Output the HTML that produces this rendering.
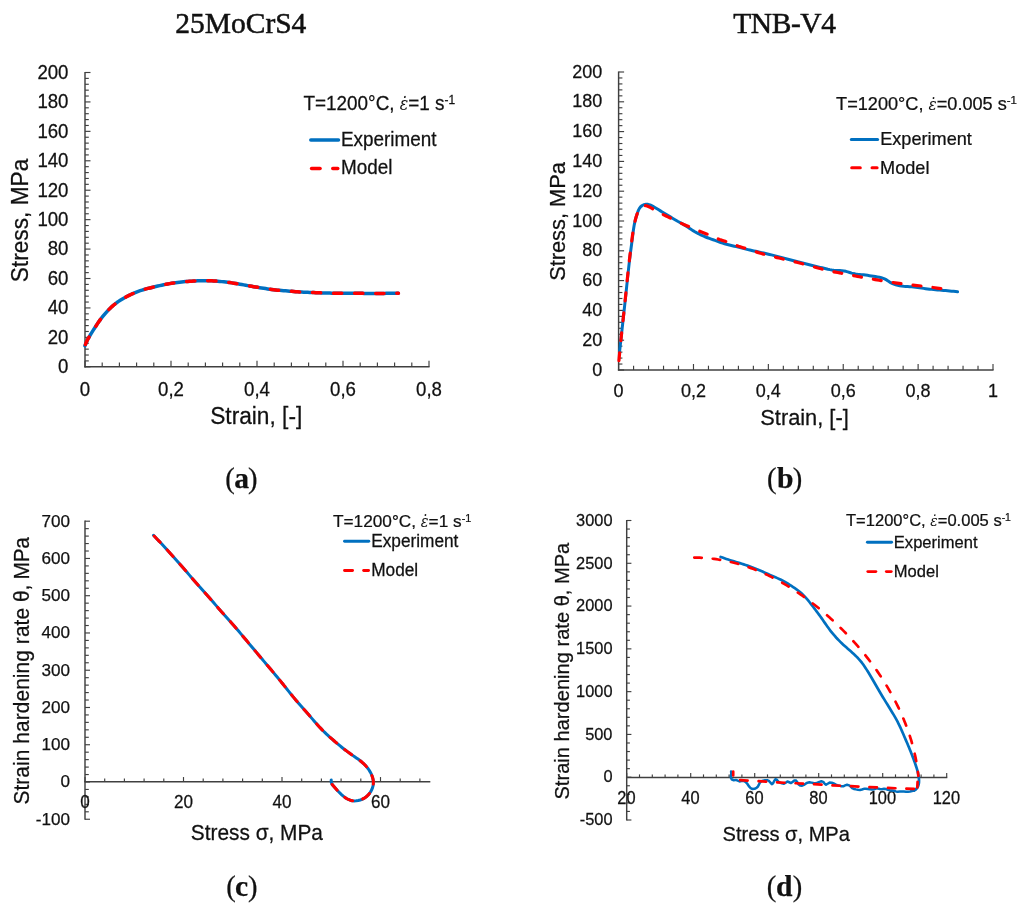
<!DOCTYPE html>
<html lang="en"><head><meta charset="utf-8"><title>Flow curves and strain hardening rate: 25MoCrS4 and TNB-V4</title>
<style>html,body{margin:0;padding:0;background:#fff}svg{display:block}text{fill:#111;stroke:#111;stroke-width:0.25px}</style></head><body>
<svg width="1024" height="911" viewBox="0 0 1024 911">
<rect width="1024" height="911" fill="#ffffff"/>
<g style="filter:blur(0.45px)">
<text x="240.8" y="33.2" font-size="29.5" text-anchor="middle" font-family="'Liberation Serif', 'DejaVu Serif', serif" style="stroke-width:0.5px">25MoCrS4</text>
<text x="784.4" y="33.2" font-size="29.5" text-anchor="middle" font-family="'Liberation Serif', 'DejaVu Serif', serif" letter-spacing="-0.45" style="stroke-width:0.5px">TNB-V4</text>
<text x="225.2" y="487.9" font-size="28.6" text-anchor="start" font-family="'Liberation Serif', 'DejaVu Serif', serif" ><tspan x="225.2">(</tspan><tspan x="234.3" font-weight="bold" font-size="29.6">a</tspan><tspan x="248">)</tspan></text>
<text x="766.9" y="487.9" font-size="28.6" text-anchor="start" font-family="'Liberation Serif', 'DejaVu Serif', serif" ><tspan x="766.9">(</tspan><tspan x="777.1" font-weight="bold" font-size="29.6">b</tspan><tspan x="792.75">)</tspan></text>
<text x="226.2" y="896.1" font-size="28.6" text-anchor="start" font-family="'Liberation Serif', 'DejaVu Serif', serif" ><tspan x="226.2">(</tspan><tspan x="235.1" font-weight="bold" font-size="29.6">c</tspan><tspan x="248">)</tspan></text>
<text x="766.7" y="896.1" font-size="28.6" text-anchor="start" font-family="'Liberation Serif', 'DejaVu Serif', serif" ><tspan x="766.7">(</tspan><tspan x="776.1" font-weight="bold" font-size="29.6">d</tspan><tspan x="792.75">)</tspan></text>
<g id="chart-a">
<line x1="85" y1="71.92" x2="85" y2="367.38" stroke="#404040" stroke-width="1.45"/>
<line x1="84.28" y1="366.8" x2="429.57" y2="366.8" stroke="#404040" stroke-width="1.45"/>
<line x1="85" y1="72.5" x2="90.5" y2="72.5" stroke="#404040" stroke-width="1.15"/>
<text x="68.5" y="78.84" font-size="18.65" text-anchor="end" font-family="'Liberation Sans', Arial, sans-serif" transform="translate(68.5 78.84) scale(1 1.04) translate(-68.5 -78.84)" >200</text>
<line x1="85" y1="78.39" x2="88.8" y2="78.39" stroke="#404040" stroke-width="1.15"/>
<line x1="85" y1="84.27" x2="88.8" y2="84.27" stroke="#404040" stroke-width="1.15"/>
<line x1="85" y1="90.16" x2="88.8" y2="90.16" stroke="#404040" stroke-width="1.15"/>
<line x1="85" y1="96.04" x2="88.8" y2="96.04" stroke="#404040" stroke-width="1.15"/>
<line x1="85" y1="101.93" x2="90.5" y2="101.93" stroke="#404040" stroke-width="1.15"/>
<text x="68.5" y="108.27" font-size="18.65" text-anchor="end" font-family="'Liberation Sans', Arial, sans-serif" transform="translate(68.5 108.27) scale(1 1.04) translate(-68.5 -108.27)" >180</text>
<line x1="85" y1="107.82" x2="88.8" y2="107.82" stroke="#404040" stroke-width="1.15"/>
<line x1="85" y1="113.7" x2="88.8" y2="113.7" stroke="#404040" stroke-width="1.15"/>
<line x1="85" y1="119.59" x2="88.8" y2="119.59" stroke="#404040" stroke-width="1.15"/>
<line x1="85" y1="125.47" x2="88.8" y2="125.47" stroke="#404040" stroke-width="1.15"/>
<line x1="85" y1="131.36" x2="90.5" y2="131.36" stroke="#404040" stroke-width="1.15"/>
<text x="68.5" y="137.7" font-size="18.65" text-anchor="end" font-family="'Liberation Sans', Arial, sans-serif" transform="translate(68.5 137.7) scale(1 1.04) translate(-68.5 -137.7)" >160</text>
<line x1="85" y1="137.25" x2="88.8" y2="137.25" stroke="#404040" stroke-width="1.15"/>
<line x1="85" y1="143.13" x2="88.8" y2="143.13" stroke="#404040" stroke-width="1.15"/>
<line x1="85" y1="149.02" x2="88.8" y2="149.02" stroke="#404040" stroke-width="1.15"/>
<line x1="85" y1="154.9" x2="88.8" y2="154.9" stroke="#404040" stroke-width="1.15"/>
<line x1="85" y1="160.79" x2="90.5" y2="160.79" stroke="#404040" stroke-width="1.15"/>
<text x="68.5" y="167.13" font-size="18.65" text-anchor="end" font-family="'Liberation Sans', Arial, sans-serif" transform="translate(68.5 167.13) scale(1 1.04) translate(-68.5 -167.13)" >140</text>
<line x1="85" y1="166.68" x2="88.8" y2="166.68" stroke="#404040" stroke-width="1.15"/>
<line x1="85" y1="172.56" x2="88.8" y2="172.56" stroke="#404040" stroke-width="1.15"/>
<line x1="85" y1="178.45" x2="88.8" y2="178.45" stroke="#404040" stroke-width="1.15"/>
<line x1="85" y1="184.33" x2="88.8" y2="184.33" stroke="#404040" stroke-width="1.15"/>
<line x1="85" y1="190.22" x2="90.5" y2="190.22" stroke="#404040" stroke-width="1.15"/>
<text x="68.5" y="196.56" font-size="18.65" text-anchor="end" font-family="'Liberation Sans', Arial, sans-serif" transform="translate(68.5 196.56) scale(1 1.04) translate(-68.5 -196.56)" >120</text>
<line x1="85" y1="196.11" x2="88.8" y2="196.11" stroke="#404040" stroke-width="1.15"/>
<line x1="85" y1="201.99" x2="88.8" y2="201.99" stroke="#404040" stroke-width="1.15"/>
<line x1="85" y1="207.88" x2="88.8" y2="207.88" stroke="#404040" stroke-width="1.15"/>
<line x1="85" y1="213.76" x2="88.8" y2="213.76" stroke="#404040" stroke-width="1.15"/>
<line x1="85" y1="219.65" x2="90.5" y2="219.65" stroke="#404040" stroke-width="1.15"/>
<text x="68.5" y="225.99" font-size="18.65" text-anchor="end" font-family="'Liberation Sans', Arial, sans-serif" transform="translate(68.5 225.99) scale(1 1.04) translate(-68.5 -225.99)" >100</text>
<line x1="85" y1="225.54" x2="88.8" y2="225.54" stroke="#404040" stroke-width="1.15"/>
<line x1="85" y1="231.42" x2="88.8" y2="231.42" stroke="#404040" stroke-width="1.15"/>
<line x1="85" y1="237.31" x2="88.8" y2="237.31" stroke="#404040" stroke-width="1.15"/>
<line x1="85" y1="243.19" x2="88.8" y2="243.19" stroke="#404040" stroke-width="1.15"/>
<line x1="85" y1="249.08" x2="90.5" y2="249.08" stroke="#404040" stroke-width="1.15"/>
<text x="68.5" y="255.42" font-size="18.65" text-anchor="end" font-family="'Liberation Sans', Arial, sans-serif" transform="translate(68.5 255.42) scale(1 1.04) translate(-68.5 -255.42)" >80</text>
<line x1="85" y1="254.97" x2="88.8" y2="254.97" stroke="#404040" stroke-width="1.15"/>
<line x1="85" y1="260.85" x2="88.8" y2="260.85" stroke="#404040" stroke-width="1.15"/>
<line x1="85" y1="266.74" x2="88.8" y2="266.74" stroke="#404040" stroke-width="1.15"/>
<line x1="85" y1="272.62" x2="88.8" y2="272.62" stroke="#404040" stroke-width="1.15"/>
<line x1="85" y1="278.51" x2="90.5" y2="278.51" stroke="#404040" stroke-width="1.15"/>
<text x="68.5" y="284.85" font-size="18.65" text-anchor="end" font-family="'Liberation Sans', Arial, sans-serif" transform="translate(68.5 284.85) scale(1 1.04) translate(-68.5 -284.85)" >60</text>
<line x1="85" y1="284.4" x2="88.8" y2="284.4" stroke="#404040" stroke-width="1.15"/>
<line x1="85" y1="290.28" x2="88.8" y2="290.28" stroke="#404040" stroke-width="1.15"/>
<line x1="85" y1="296.17" x2="88.8" y2="296.17" stroke="#404040" stroke-width="1.15"/>
<line x1="85" y1="302.05" x2="88.8" y2="302.05" stroke="#404040" stroke-width="1.15"/>
<line x1="85" y1="307.94" x2="90.5" y2="307.94" stroke="#404040" stroke-width="1.15"/>
<text x="68.5" y="314.28" font-size="18.65" text-anchor="end" font-family="'Liberation Sans', Arial, sans-serif" transform="translate(68.5 314.28) scale(1 1.04) translate(-68.5 -314.28)" >40</text>
<line x1="85" y1="313.83" x2="88.8" y2="313.83" stroke="#404040" stroke-width="1.15"/>
<line x1="85" y1="319.71" x2="88.8" y2="319.71" stroke="#404040" stroke-width="1.15"/>
<line x1="85" y1="325.6" x2="88.8" y2="325.6" stroke="#404040" stroke-width="1.15"/>
<line x1="85" y1="331.48" x2="88.8" y2="331.48" stroke="#404040" stroke-width="1.15"/>
<line x1="85" y1="337.37" x2="90.5" y2="337.37" stroke="#404040" stroke-width="1.15"/>
<text x="68.5" y="343.71" font-size="18.65" text-anchor="end" font-family="'Liberation Sans', Arial, sans-serif" transform="translate(68.5 343.71) scale(1 1.04) translate(-68.5 -343.71)" >20</text>
<line x1="85" y1="343.26" x2="88.8" y2="343.26" stroke="#404040" stroke-width="1.15"/>
<line x1="85" y1="349.14" x2="88.8" y2="349.14" stroke="#404040" stroke-width="1.15"/>
<line x1="85" y1="355.03" x2="88.8" y2="355.03" stroke="#404040" stroke-width="1.15"/>
<line x1="85" y1="360.91" x2="88.8" y2="360.91" stroke="#404040" stroke-width="1.15"/>
<line x1="85" y1="366.8" x2="90.5" y2="366.8" stroke="#404040" stroke-width="1.15"/>
<text x="68.5" y="373.14" font-size="18.65" text-anchor="end" font-family="'Liberation Sans', Arial, sans-serif" transform="translate(68.5 373.14) scale(1 1.04) translate(-68.5 -373.14)" >0</text>
<line x1="85" y1="366.8" x2="85" y2="360.8" stroke="#404040" stroke-width="1.15"/>
<text x="85" y="395.9" font-size="18.65" text-anchor="middle" font-family="'Liberation Sans', Arial, sans-serif" transform="translate(85 395.9) scale(1 1.04) translate(-85 -395.9)" >0</text>
<line x1="102.2" y1="366.8" x2="102.2" y2="362.5" stroke="#404040" stroke-width="1.15"/>
<line x1="119.4" y1="366.8" x2="119.4" y2="362.5" stroke="#404040" stroke-width="1.15"/>
<line x1="136.6" y1="366.8" x2="136.6" y2="362.5" stroke="#404040" stroke-width="1.15"/>
<line x1="153.8" y1="366.8" x2="153.8" y2="362.5" stroke="#404040" stroke-width="1.15"/>
<line x1="171" y1="366.8" x2="171" y2="360.8" stroke="#404040" stroke-width="1.15"/>
<text x="171" y="395.9" font-size="18.65" text-anchor="middle" font-family="'Liberation Sans', Arial, sans-serif" transform="translate(171 395.9) scale(1 1.04) translate(-171 -395.9)" >0,2</text>
<line x1="188.2" y1="366.8" x2="188.2" y2="362.5" stroke="#404040" stroke-width="1.15"/>
<line x1="205.4" y1="366.8" x2="205.4" y2="362.5" stroke="#404040" stroke-width="1.15"/>
<line x1="222.6" y1="366.8" x2="222.6" y2="362.5" stroke="#404040" stroke-width="1.15"/>
<line x1="239.8" y1="366.8" x2="239.8" y2="362.5" stroke="#404040" stroke-width="1.15"/>
<line x1="257" y1="366.8" x2="257" y2="360.8" stroke="#404040" stroke-width="1.15"/>
<text x="257" y="395.9" font-size="18.65" text-anchor="middle" font-family="'Liberation Sans', Arial, sans-serif" transform="translate(257 395.9) scale(1 1.04) translate(-257 -395.9)" >0,4</text>
<line x1="274.2" y1="366.8" x2="274.2" y2="362.5" stroke="#404040" stroke-width="1.15"/>
<line x1="291.4" y1="366.8" x2="291.4" y2="362.5" stroke="#404040" stroke-width="1.15"/>
<line x1="308.6" y1="366.8" x2="308.6" y2="362.5" stroke="#404040" stroke-width="1.15"/>
<line x1="325.8" y1="366.8" x2="325.8" y2="362.5" stroke="#404040" stroke-width="1.15"/>
<line x1="343" y1="366.8" x2="343" y2="360.8" stroke="#404040" stroke-width="1.15"/>
<text x="343" y="395.9" font-size="18.65" text-anchor="middle" font-family="'Liberation Sans', Arial, sans-serif" transform="translate(343 395.9) scale(1 1.04) translate(-343 -395.9)" >0,6</text>
<line x1="360.2" y1="366.8" x2="360.2" y2="362.5" stroke="#404040" stroke-width="1.15"/>
<line x1="377.4" y1="366.8" x2="377.4" y2="362.5" stroke="#404040" stroke-width="1.15"/>
<line x1="394.6" y1="366.8" x2="394.6" y2="362.5" stroke="#404040" stroke-width="1.15"/>
<line x1="411.8" y1="366.8" x2="411.8" y2="362.5" stroke="#404040" stroke-width="1.15"/>
<line x1="429" y1="366.8" x2="429" y2="360.8" stroke="#404040" stroke-width="1.15"/>
<text x="429" y="395.9" font-size="18.65" text-anchor="middle" font-family="'Liberation Sans', Arial, sans-serif" transform="translate(429 395.9) scale(1 1.04) translate(-429 -395.9)" >0,8</text>
<text x="256.25" y="424" font-size="22.7" text-anchor="middle" font-family="'Liberation Sans', Arial, sans-serif" transform="translate(256.25 424) scale(1 1.06) translate(-256.25 -424)" >Strain, [-]</text>
<text x="28.3" y="220.5" font-size="22.7" text-anchor="middle" font-family="'Liberation Sans', Arial, sans-serif" transform="translate(28.3 220.5) rotate(-90) scale(1 1.03) translate(-28.3 -220.5)" >Stress, MPa</text>
<polyline fill="none" stroke="#0070C0" stroke-width="3.5" stroke-linecap="round" stroke-linejoin="round" points="84.9,345.9 85.61,343.99 86.4,342.13 87.27,340.31 88.2,338.53 89.19,336.77 90.21,335.04 91.27,333.33 92.35,331.63 93.44,329.93 94.53,328.23 95.61,326.53 96.71,324.84 97.82,323.16 98.95,321.49 100.13,319.86 101.34,318.25 102.58,316.66 103.87,315.1 105.18,313.57 106.52,312.06 107.89,310.58 109.3,309.13 110.74,307.71 112.21,306.34 113.73,305.01 115.3,303.75 116.91,302.53 118.56,301.38 120.25,300.27 121.97,299.22 123.72,298.2 125.48,297.23 127.27,296.29 129.07,295.39 130.89,294.52 132.72,293.69 134.58,292.89 136.44,292.12 138.32,291.39 140.22,290.71 142.13,290.07 144.06,289.47 145.99,288.92 147.94,288.41 149.9,287.93 151.86,287.46 153.82,286.99 155.79,286.53 157.75,286.07 159.71,285.62 161.68,285.18 163.65,284.76 165.62,284.36 167.6,283.98 169.59,283.63 171.58,283.3 173.57,282.99 175.57,282.71 177.56,282.44 179.57,282.2 181.57,281.97 183.57,281.77 185.58,281.58 187.59,281.42 189.6,281.27 191.61,281.13 193.62,281.02 195.63,280.92 197.65,280.83 199.66,280.76 201.68,280.72 203.69,280.69 205.71,280.69 207.72,280.72 209.74,280.78 211.75,280.86 213.77,280.97 215.78,281.1 217.79,281.26 219.8,281.43 221.8,281.63 223.81,281.84 225.81,282.08 227.81,282.33 229.81,282.6 231.8,282.88 233.79,283.18 235.78,283.5 237.77,283.83 239.76,284.17 241.74,284.53 243.72,284.89 245.71,285.26 247.69,285.62 249.67,285.97 251.66,286.32 253.64,286.66 255.63,286.99 257.62,287.32 259.61,287.65 261.6,287.97 263.59,288.29 265.58,288.6 267.58,288.9 269.57,289.19 271.57,289.45 273.57,289.7 275.57,289.93 277.57,290.14 279.58,290.33 281.59,290.51 283.6,290.68 285.6,290.85 287.61,291.02 289.62,291.19 291.63,291.36 293.64,291.52 295.65,291.66 297.66,291.79 299.67,291.91 301.68,292.02 303.7,292.13 305.71,292.22 307.72,292.31 309.74,292.41 311.75,292.5 313.76,292.59 315.78,292.67 317.79,292.76 319.81,292.83 321.82,292.91 323.83,292.97 325.85,293.02 327.86,293.06 329.88,293.1 331.89,293.13 333.91,293.15 335.92,293.17 337.94,293.18 339.96,293.2 341.97,293.22 343.99,293.23 346,293.25 348.02,293.26 350.03,293.28 352.05,293.3 354.06,293.31 356.08,293.33 358.09,293.34 360.11,293.35 362.12,293.37 364.14,293.38 366.15,293.39 368.17,293.39 370.19,293.4 372.2,293.4 374.22,293.41 376.23,293.41 378.25,293.4 380.26,293.4 382.28,293.39 384.29,293.38 386.31,293.36 388.32,293.35 390.34,293.32 392.35,293.3 394.37,293.27 396.38,293.24 398.4,293.2"/>
<polyline fill="none" stroke="#FF0000" stroke-width="3.5" stroke-linecap="round" stroke-linejoin="round" stroke-dasharray="8.3 12.8" stroke-dashoffset="-1.5" points="84.9,345.9 85.61,343.99 86.4,342.13 87.27,340.31 88.2,338.53 89.19,336.77 90.21,335.04 91.27,333.33 92.35,331.63 93.44,329.93 94.53,328.23 95.61,326.53 96.71,324.84 97.82,323.16 98.95,321.49 100.13,319.86 101.34,318.25 102.58,316.66 103.87,315.1 105.18,313.57 106.52,312.06 107.89,310.58 109.3,309.13 110.74,307.71 112.21,306.34 113.73,305.01 115.3,303.75 116.91,302.53 118.56,301.38 120.25,300.27 121.97,299.22 123.72,298.2 125.48,297.23 127.27,296.29 129.07,295.39 130.89,294.52 132.72,293.69 134.58,292.89 136.44,292.12 138.32,291.39 140.22,290.71 142.13,290.07 144.06,289.47 145.99,288.92 147.94,288.41 149.9,287.93 151.86,287.46 153.82,286.99 155.79,286.53 157.75,286.07 159.71,285.62 161.68,285.18 163.65,284.76 165.62,284.36 167.6,283.98 169.59,283.63 171.58,283.3 173.57,282.99 175.57,282.71 177.56,282.44 179.57,282.2 181.57,281.97 183.57,281.77 185.58,281.58 187.59,281.42 189.6,281.27 191.61,281.13 193.62,281.02 195.63,280.92 197.65,280.83 199.66,280.76 201.68,280.72 203.69,280.69 205.71,280.69 207.72,280.72 209.74,280.78 211.75,280.86 213.77,280.97 215.78,281.1 217.79,281.26 219.8,281.43 221.8,281.63 223.81,281.84 225.81,282.08 227.81,282.33 229.81,282.6 231.8,282.88 233.79,283.18 235.78,283.5 237.77,283.83 239.76,284.17 241.74,284.53 243.72,284.89 245.71,285.26 247.69,285.62 249.67,285.97 251.66,286.32 253.64,286.66 255.63,286.99 257.62,287.32 259.61,287.65 261.6,287.97 263.59,288.29 265.58,288.6 267.58,288.9 269.57,289.19 271.57,289.45 273.57,289.7 275.57,289.93 277.57,290.14 279.58,290.33 281.59,290.51 283.6,290.68 285.6,290.85 287.61,291.02 289.62,291.19 291.63,291.36 293.64,291.52 295.65,291.66 297.66,291.79 299.67,291.91 301.68,292.02 303.7,292.13 305.71,292.22 307.72,292.31 309.74,292.41 311.75,292.5 313.76,292.59 315.78,292.67 317.79,292.76 319.81,292.83 321.82,292.91 323.83,292.97 325.85,293.02 327.86,293.06 329.88,293.1 331.89,293.13 333.91,293.15 335.92,293.17 337.94,293.18 339.96,293.2 341.97,293.22 343.99,293.23 346,293.25 348.02,293.26 350.03,293.28 352.05,293.3 354.06,293.31 356.08,293.33 358.09,293.34 360.11,293.35 362.12,293.37 364.14,293.38 366.15,293.39 368.17,293.39 370.19,293.4 372.2,293.4 374.22,293.41 376.23,293.41 378.25,293.4 380.26,293.4 382.28,293.39 384.29,293.38 386.31,293.36 388.32,293.35 390.34,293.32 392.35,293.3 394.37,293.27 396.38,293.24 398.4,293.2"/>
<text x="303.5" y="110" font-size="18.9" text-anchor="start" font-family="'Liberation Sans', Arial, sans-serif" transform="translate(303.5 110) scale(1 1.06) translate(-303.5 -110)" >T=1200°C, <tspan font-family="'DejaVu Serif Condensed', 'DejaVu Serif', serif" font-style="italic" font-size="17.58" stroke-width="0">ε̇</tspan>=1 s<tspan font-size="11.91" dy="-5.86">-1</tspan></text>
<line x1="310.8" y1="139.9" x2="338.5" y2="139.9" stroke="#0070C0" stroke-width="3.5" stroke-linecap="round"/>
<text x="341" y="145.75" font-size="18.9" text-anchor="start" font-family="'Liberation Sans', Arial, sans-serif" transform="translate(341 145.75) scale(1 1.06) translate(-341 -145.75)" >Experiment</text>
<line x1="311.55" y1="168.6" x2="320.05" y2="168.6" stroke="#FF0000" stroke-width="3.5" stroke-linecap="round"/>
<line x1="332.75" y1="168.6" x2="337.75" y2="168.6" stroke="#FF0000" stroke-width="3.5" stroke-linecap="round"/>
<text x="341" y="174.25" font-size="18.9" text-anchor="start" font-family="'Liberation Sans', Arial, sans-serif" transform="translate(341 174.25) scale(1 1.06) translate(-341 -174.25)" >Model</text>
</g>
<g id="chart-b">
<line x1="618.6" y1="71.42" x2="618.6" y2="370.57" stroke="#404040" stroke-width="1.45"/>
<line x1="617.88" y1="370" x2="993.58" y2="370" stroke="#404040" stroke-width="1.45"/>
<line x1="618.6" y1="72" x2="624.1" y2="72" stroke="#404040" stroke-width="1.15"/>
<text x="602.3" y="77.53" font-size="18" text-anchor="end" font-family="'Liberation Sans', Arial, sans-serif" transform="translate(602.3 77.53) scale(1 1.06) translate(-602.3 -77.53)" >200</text>
<line x1="618.6" y1="77.96" x2="622.4" y2="77.96" stroke="#404040" stroke-width="1.15"/>
<line x1="618.6" y1="83.92" x2="622.4" y2="83.92" stroke="#404040" stroke-width="1.15"/>
<line x1="618.6" y1="89.88" x2="622.4" y2="89.88" stroke="#404040" stroke-width="1.15"/>
<line x1="618.6" y1="95.84" x2="622.4" y2="95.84" stroke="#404040" stroke-width="1.15"/>
<line x1="618.6" y1="101.8" x2="624.1" y2="101.8" stroke="#404040" stroke-width="1.15"/>
<text x="602.3" y="107.33" font-size="18" text-anchor="end" font-family="'Liberation Sans', Arial, sans-serif" transform="translate(602.3 107.33) scale(1 1.06) translate(-602.3 -107.33)" >180</text>
<line x1="618.6" y1="107.76" x2="622.4" y2="107.76" stroke="#404040" stroke-width="1.15"/>
<line x1="618.6" y1="113.72" x2="622.4" y2="113.72" stroke="#404040" stroke-width="1.15"/>
<line x1="618.6" y1="119.68" x2="622.4" y2="119.68" stroke="#404040" stroke-width="1.15"/>
<line x1="618.6" y1="125.64" x2="622.4" y2="125.64" stroke="#404040" stroke-width="1.15"/>
<line x1="618.6" y1="131.6" x2="624.1" y2="131.6" stroke="#404040" stroke-width="1.15"/>
<text x="602.3" y="137.13" font-size="18" text-anchor="end" font-family="'Liberation Sans', Arial, sans-serif" transform="translate(602.3 137.13) scale(1 1.06) translate(-602.3 -137.13)" >160</text>
<line x1="618.6" y1="137.56" x2="622.4" y2="137.56" stroke="#404040" stroke-width="1.15"/>
<line x1="618.6" y1="143.52" x2="622.4" y2="143.52" stroke="#404040" stroke-width="1.15"/>
<line x1="618.6" y1="149.48" x2="622.4" y2="149.48" stroke="#404040" stroke-width="1.15"/>
<line x1="618.6" y1="155.44" x2="622.4" y2="155.44" stroke="#404040" stroke-width="1.15"/>
<line x1="618.6" y1="161.4" x2="624.1" y2="161.4" stroke="#404040" stroke-width="1.15"/>
<text x="602.3" y="166.93" font-size="18" text-anchor="end" font-family="'Liberation Sans', Arial, sans-serif" transform="translate(602.3 166.93) scale(1 1.06) translate(-602.3 -166.93)" >140</text>
<line x1="618.6" y1="167.36" x2="622.4" y2="167.36" stroke="#404040" stroke-width="1.15"/>
<line x1="618.6" y1="173.32" x2="622.4" y2="173.32" stroke="#404040" stroke-width="1.15"/>
<line x1="618.6" y1="179.28" x2="622.4" y2="179.28" stroke="#404040" stroke-width="1.15"/>
<line x1="618.6" y1="185.24" x2="622.4" y2="185.24" stroke="#404040" stroke-width="1.15"/>
<line x1="618.6" y1="191.2" x2="624.1" y2="191.2" stroke="#404040" stroke-width="1.15"/>
<text x="602.3" y="196.73" font-size="18" text-anchor="end" font-family="'Liberation Sans', Arial, sans-serif" transform="translate(602.3 196.73) scale(1 1.06) translate(-602.3 -196.73)" >120</text>
<line x1="618.6" y1="197.16" x2="622.4" y2="197.16" stroke="#404040" stroke-width="1.15"/>
<line x1="618.6" y1="203.12" x2="622.4" y2="203.12" stroke="#404040" stroke-width="1.15"/>
<line x1="618.6" y1="209.08" x2="622.4" y2="209.08" stroke="#404040" stroke-width="1.15"/>
<line x1="618.6" y1="215.04" x2="622.4" y2="215.04" stroke="#404040" stroke-width="1.15"/>
<line x1="618.6" y1="221" x2="624.1" y2="221" stroke="#404040" stroke-width="1.15"/>
<text x="602.3" y="226.53" font-size="18" text-anchor="end" font-family="'Liberation Sans', Arial, sans-serif" transform="translate(602.3 226.53) scale(1 1.06) translate(-602.3 -226.53)" >100</text>
<line x1="618.6" y1="226.96" x2="622.4" y2="226.96" stroke="#404040" stroke-width="1.15"/>
<line x1="618.6" y1="232.92" x2="622.4" y2="232.92" stroke="#404040" stroke-width="1.15"/>
<line x1="618.6" y1="238.88" x2="622.4" y2="238.88" stroke="#404040" stroke-width="1.15"/>
<line x1="618.6" y1="244.84" x2="622.4" y2="244.84" stroke="#404040" stroke-width="1.15"/>
<line x1="618.6" y1="250.8" x2="624.1" y2="250.8" stroke="#404040" stroke-width="1.15"/>
<text x="602.3" y="256.33" font-size="18" text-anchor="end" font-family="'Liberation Sans', Arial, sans-serif" transform="translate(602.3 256.33) scale(1 1.06) translate(-602.3 -256.33)" >80</text>
<line x1="618.6" y1="256.76" x2="622.4" y2="256.76" stroke="#404040" stroke-width="1.15"/>
<line x1="618.6" y1="262.72" x2="622.4" y2="262.72" stroke="#404040" stroke-width="1.15"/>
<line x1="618.6" y1="268.68" x2="622.4" y2="268.68" stroke="#404040" stroke-width="1.15"/>
<line x1="618.6" y1="274.64" x2="622.4" y2="274.64" stroke="#404040" stroke-width="1.15"/>
<line x1="618.6" y1="280.6" x2="624.1" y2="280.6" stroke="#404040" stroke-width="1.15"/>
<text x="602.3" y="286.13" font-size="18" text-anchor="end" font-family="'Liberation Sans', Arial, sans-serif" transform="translate(602.3 286.13) scale(1 1.06) translate(-602.3 -286.13)" >60</text>
<line x1="618.6" y1="286.56" x2="622.4" y2="286.56" stroke="#404040" stroke-width="1.15"/>
<line x1="618.6" y1="292.52" x2="622.4" y2="292.52" stroke="#404040" stroke-width="1.15"/>
<line x1="618.6" y1="298.48" x2="622.4" y2="298.48" stroke="#404040" stroke-width="1.15"/>
<line x1="618.6" y1="304.44" x2="622.4" y2="304.44" stroke="#404040" stroke-width="1.15"/>
<line x1="618.6" y1="310.4" x2="624.1" y2="310.4" stroke="#404040" stroke-width="1.15"/>
<text x="602.3" y="315.93" font-size="18" text-anchor="end" font-family="'Liberation Sans', Arial, sans-serif" transform="translate(602.3 315.93) scale(1 1.06) translate(-602.3 -315.93)" >40</text>
<line x1="618.6" y1="316.36" x2="622.4" y2="316.36" stroke="#404040" stroke-width="1.15"/>
<line x1="618.6" y1="322.32" x2="622.4" y2="322.32" stroke="#404040" stroke-width="1.15"/>
<line x1="618.6" y1="328.28" x2="622.4" y2="328.28" stroke="#404040" stroke-width="1.15"/>
<line x1="618.6" y1="334.24" x2="622.4" y2="334.24" stroke="#404040" stroke-width="1.15"/>
<line x1="618.6" y1="340.2" x2="624.1" y2="340.2" stroke="#404040" stroke-width="1.15"/>
<text x="602.3" y="345.73" font-size="18" text-anchor="end" font-family="'Liberation Sans', Arial, sans-serif" transform="translate(602.3 345.73) scale(1 1.06) translate(-602.3 -345.73)" >20</text>
<line x1="618.6" y1="346.16" x2="622.4" y2="346.16" stroke="#404040" stroke-width="1.15"/>
<line x1="618.6" y1="352.12" x2="622.4" y2="352.12" stroke="#404040" stroke-width="1.15"/>
<line x1="618.6" y1="358.08" x2="622.4" y2="358.08" stroke="#404040" stroke-width="1.15"/>
<line x1="618.6" y1="364.04" x2="622.4" y2="364.04" stroke="#404040" stroke-width="1.15"/>
<line x1="618.6" y1="370" x2="624.1" y2="370" stroke="#404040" stroke-width="1.15"/>
<text x="602.3" y="375.53" font-size="18" text-anchor="end" font-family="'Liberation Sans', Arial, sans-serif" transform="translate(602.3 375.53) scale(1 1.06) translate(-602.3 -375.53)" >0</text>
<line x1="618.6" y1="370" x2="618.6" y2="364" stroke="#404040" stroke-width="1.15"/>
<text x="618.6" y="397.1" font-size="18" text-anchor="middle" font-family="'Liberation Sans', Arial, sans-serif" transform="translate(618.6 397.1) scale(1 1.06) translate(-618.6 -397.1)" >0</text>
<line x1="633.58" y1="370" x2="633.58" y2="365.7" stroke="#404040" stroke-width="1.15"/>
<line x1="648.55" y1="370" x2="648.55" y2="365.7" stroke="#404040" stroke-width="1.15"/>
<line x1="663.53" y1="370" x2="663.53" y2="365.7" stroke="#404040" stroke-width="1.15"/>
<line x1="678.5" y1="370" x2="678.5" y2="365.7" stroke="#404040" stroke-width="1.15"/>
<line x1="693.48" y1="370" x2="693.48" y2="364" stroke="#404040" stroke-width="1.15"/>
<text x="693.48" y="397.1" font-size="18" text-anchor="middle" font-family="'Liberation Sans', Arial, sans-serif" transform="translate(693.48 397.1) scale(1 1.06) translate(-693.48 -397.1)" >0,2</text>
<line x1="708.46" y1="370" x2="708.46" y2="365.7" stroke="#404040" stroke-width="1.15"/>
<line x1="723.43" y1="370" x2="723.43" y2="365.7" stroke="#404040" stroke-width="1.15"/>
<line x1="738.41" y1="370" x2="738.41" y2="365.7" stroke="#404040" stroke-width="1.15"/>
<line x1="753.38" y1="370" x2="753.38" y2="365.7" stroke="#404040" stroke-width="1.15"/>
<line x1="768.36" y1="370" x2="768.36" y2="364" stroke="#404040" stroke-width="1.15"/>
<text x="768.36" y="397.1" font-size="18" text-anchor="middle" font-family="'Liberation Sans', Arial, sans-serif" transform="translate(768.36 397.1) scale(1 1.06) translate(-768.36 -397.1)" >0,4</text>
<line x1="783.34" y1="370" x2="783.34" y2="365.7" stroke="#404040" stroke-width="1.15"/>
<line x1="798.31" y1="370" x2="798.31" y2="365.7" stroke="#404040" stroke-width="1.15"/>
<line x1="813.29" y1="370" x2="813.29" y2="365.7" stroke="#404040" stroke-width="1.15"/>
<line x1="828.26" y1="370" x2="828.26" y2="365.7" stroke="#404040" stroke-width="1.15"/>
<line x1="843.24" y1="370" x2="843.24" y2="364" stroke="#404040" stroke-width="1.15"/>
<text x="843.24" y="397.1" font-size="18" text-anchor="middle" font-family="'Liberation Sans', Arial, sans-serif" transform="translate(843.24 397.1) scale(1 1.06) translate(-843.24 -397.1)" >0,6</text>
<line x1="858.22" y1="370" x2="858.22" y2="365.7" stroke="#404040" stroke-width="1.15"/>
<line x1="873.19" y1="370" x2="873.19" y2="365.7" stroke="#404040" stroke-width="1.15"/>
<line x1="888.17" y1="370" x2="888.17" y2="365.7" stroke="#404040" stroke-width="1.15"/>
<line x1="903.14" y1="370" x2="903.14" y2="365.7" stroke="#404040" stroke-width="1.15"/>
<line x1="918.12" y1="370" x2="918.12" y2="364" stroke="#404040" stroke-width="1.15"/>
<text x="918.12" y="397.1" font-size="18" text-anchor="middle" font-family="'Liberation Sans', Arial, sans-serif" transform="translate(918.12 397.1) scale(1 1.06) translate(-918.12 -397.1)" >0,8</text>
<line x1="933.1" y1="370" x2="933.1" y2="365.7" stroke="#404040" stroke-width="1.15"/>
<line x1="948.07" y1="370" x2="948.07" y2="365.7" stroke="#404040" stroke-width="1.15"/>
<line x1="963.05" y1="370" x2="963.05" y2="365.7" stroke="#404040" stroke-width="1.15"/>
<line x1="978.02" y1="370" x2="978.02" y2="365.7" stroke="#404040" stroke-width="1.15"/>
<line x1="993" y1="370" x2="993" y2="364" stroke="#404040" stroke-width="1.15"/>
<text x="993" y="397.1" font-size="18" text-anchor="middle" font-family="'Liberation Sans', Arial, sans-serif" transform="translate(993 397.1) scale(1 1.06) translate(-993 -397.1)" >1</text>
<text x="804.5" y="425.5" font-size="21.8" text-anchor="middle" font-family="'Liberation Sans', Arial, sans-serif" transform="translate(804.5 425.5) scale(1 1.04) translate(-804.5 -425.5)" >Strain, [-]</text>
<text x="564.6" y="221.5" font-size="21.8" text-anchor="middle" font-family="'Liberation Sans', Arial, sans-serif" transform="translate(564.6 221.5) rotate(-90) scale(1 1.04) translate(-564.6 -221.5)" >Stress, MPa</text>
<polyline fill="none" stroke="#0070C0" stroke-width="3" stroke-linecap="round" stroke-linejoin="round" points="619.6,351.3 619.82,349.3 620.05,347.31 620.27,345.31 620.49,343.31 620.72,341.32 620.94,339.32 621.16,337.33 621.39,335.33 621.61,333.33 621.83,331.34 622.05,329.34 622.27,327.34 622.49,325.35 622.71,323.35 622.93,321.35 623.15,319.36 623.37,317.36 623.59,315.36 623.81,313.37 624.03,311.37 624.25,309.37 624.46,307.37 624.68,305.38 624.9,303.38 625.11,301.38 625.32,299.39 625.54,297.39 625.75,295.39 625.96,293.39 626.17,291.4 626.38,289.4 626.59,287.4 626.8,285.4 627.01,283.4 627.22,281.41 627.43,279.41 627.64,277.41 627.85,275.41 628.07,273.42 628.28,271.42 628.5,269.42 628.72,267.42 628.94,265.43 629.17,263.43 629.4,261.44 629.63,259.44 629.87,257.45 630.11,255.45 630.37,253.46 630.62,251.47 630.89,249.48 631.16,247.49 631.43,245.49 631.69,243.5 631.95,241.51 632.2,239.52 632.45,237.53 632.69,235.53 632.95,233.54 633.21,231.55 633.49,229.56 633.8,227.57 634.13,225.58 634.5,223.61 634.91,221.64 635.38,219.69 635.9,217.76 636.48,215.84 637.1,213.93 637.77,212.02 638.5,210.12 639.42,208.34 640.65,206.76 642.23,205.49 644.06,204.61 646.03,204.21 648.03,204.35 649.98,204.92 651.83,205.72 653.6,206.68 655.31,207.72 657.02,208.78 658.73,209.85 660.43,210.9 662.15,211.95 663.87,212.99 665.59,214.02 667.31,215.05 669.03,216.09 670.74,217.14 672.45,218.2 674.16,219.25 675.89,220.28 677.64,221.28 679.41,222.23 681.19,223.17 682.95,224.12 684.69,225.12 686.38,226.2 688.04,227.34 689.69,228.49 691.36,229.6 693.07,230.66 694.8,231.68 696.55,232.67 698.33,233.62 700.12,234.53 701.93,235.4 703.76,236.22 705.61,237 707.48,237.73 709.36,238.43 711.25,239.11 713.15,239.78 715.04,240.46 716.94,241.14 718.83,241.82 720.73,242.48 722.63,243.12 724.54,243.72 726.47,244.27 728.41,244.78 730.37,245.26 732.32,245.72 734.28,246.17 736.24,246.64 738.19,247.12 740.13,247.63 742.07,248.14 744.02,248.65 745.96,249.15 747.91,249.62 749.87,250.07 751.83,250.51 753.8,250.92 755.76,251.34 757.73,251.76 759.69,252.18 761.65,252.62 763.61,253.06 765.57,253.52 767.52,253.98 769.48,254.44 771.43,254.91 773.38,255.38 775.34,255.86 777.28,256.35 779.23,256.85 781.17,257.36 783.11,257.88 785.05,258.41 786.99,258.95 788.92,259.48 790.86,260.01 792.8,260.53 794.74,261.04 796.69,261.54 798.64,262.03 800.58,262.52 802.53,263.01 804.48,263.49 806.43,263.98 808.38,264.46 810.33,264.94 812.28,265.42 814.23,265.9 816.18,266.39 818.13,266.87 820.08,267.35 822.03,267.82 823.99,268.3 825.95,268.76 827.91,269.21 829.88,269.61 831.86,269.96 833.85,270.22 835.85,270.4 837.87,270.5 839.89,270.59 841.9,270.72 843.89,270.95 845.85,271.33 847.77,271.88 849.69,272.5 851.61,273.11 853.55,273.6 855.52,273.96 857.51,274.23 859.52,274.44 861.53,274.62 863.53,274.83 865.53,275.07 867.52,275.34 869.5,275.65 871.48,275.96 873.47,276.28 875.45,276.6 877.44,276.93 879.41,277.31 881.36,277.79 883.28,278.4 885.14,279.18 886.9,280.14 888.57,281.26 890.24,282.38 891.99,283.35 893.84,284.15 895.75,284.8 897.7,285.31 899.67,285.71 901.66,286.01 903.66,286.24 905.66,286.41 907.67,286.55 909.68,286.67 911.68,286.8 913.68,286.95 915.68,287.15 917.67,287.41 919.65,287.72 921.64,288.04 923.62,288.36 925.61,288.67 927.6,288.94 929.59,289.17 931.59,289.37 933.59,289.55 935.6,289.73 937.6,289.89 939.6,290.06 941.6,290.23 943.6,290.4 945.6,290.58 947.6,290.76 949.6,290.95 951.6,291.14 953.6,291.34 955.6,291.54 957.6,291.75"/>
<polyline fill="none" stroke="#FF0000" stroke-width="3.2" stroke-linecap="round" stroke-linejoin="round" stroke-dasharray="8.0 12.06" stroke-dashoffset="-1.5" points="618.8,362.2 618.98,360.19 619.16,358.19 619.34,356.19 619.53,354.18 619.72,352.18 619.91,350.17 620.11,348.17 620.3,346.17 620.51,344.17 620.71,342.16 620.91,340.16 621.12,338.16 621.33,336.16 621.54,334.16 621.75,332.15 621.96,330.15 622.18,328.15 622.39,326.15 622.61,324.15 622.82,322.15 623.04,320.15 623.25,318.15 623.47,316.15 623.69,314.14 623.9,312.14 624.12,310.14 624.33,308.14 624.54,306.14 624.75,304.14 624.97,302.14 625.18,300.14 625.38,298.13 625.59,296.13 625.79,294.13 626,292.13 626.2,290.12 626.4,288.12 626.6,286.12 626.8,284.12 627.01,282.11 627.21,280.11 627.42,278.11 627.62,276.11 627.83,274.11 628.04,272.1 628.26,270.1 628.48,268.1 628.7,266.1 628.93,264.1 629.16,262.1 629.39,260.1 629.63,258.11 629.86,256.11 630.1,254.11 630.34,252.11 630.59,250.11 630.83,248.12 631.07,246.12 631.32,244.12 631.58,242.12 631.84,240.13 632.11,238.13 632.38,236.14 632.67,234.15 632.98,232.16 633.29,230.17 633.63,228.18 633.99,226.2 634.37,224.22 634.79,222.26 635.25,220.3 635.75,218.35 636.31,216.42 636.94,214.51 637.66,212.61 638.5,210.76 639.56,209.05 640.91,207.57 642.58,206.41 644.49,205.69 646.46,205.73 648.36,206.48 650.19,207.41 651.97,208.35 653.73,209.3 655.47,210.27 657.22,211.26 658.96,212.27 660.72,213.26 662.49,214.22 664.28,215.15 666.09,216.04 667.91,216.89 669.74,217.74 671.56,218.6 673.37,219.47 675.17,220.37 676.97,221.27 678.78,222.16 680.59,223.04 682.42,223.88 684.26,224.68 686.12,225.46 687.98,226.22 689.84,227 691.69,227.78 693.54,228.59 695.38,229.4 697.22,230.21 699.08,231 700.94,231.75 702.82,232.48 704.7,233.19 706.58,233.91 708.45,234.64 710.31,235.42 712.15,236.24 713.98,237.08 715.82,237.91 717.66,238.71 719.53,239.45 721.43,240.11 723.35,240.71 725.28,241.3 727.2,241.9 729.11,242.54 730.99,243.24 732.86,243.99 734.73,244.75 736.6,245.5 738.48,246.19 740.39,246.83 742.32,247.41 744.25,247.97 746.19,248.52 748.12,249.11 750.03,249.73 751.93,250.39 753.83,251.06 755.73,251.73 757.63,252.38 759.55,252.99 761.48,253.56 763.42,254.11 765.36,254.64 767.31,255.15 769.26,255.65 771.21,256.14 773.16,256.63 775.12,257.11 777.07,257.59 779.03,258.07 780.98,258.54 782.94,259 784.9,259.47 786.86,259.93 788.82,260.4 790.77,260.87 792.73,261.34 794.68,261.82 796.64,262.31 798.59,262.8 800.54,263.29 802.49,263.8 804.43,264.31 806.38,264.82 808.32,265.35 810.27,265.87 812.21,266.4 814.15,266.94 816.09,267.47 818.03,268 819.98,268.53 821.92,269.04 823.87,269.54 825.83,270.03 827.78,270.5 829.74,270.94 831.71,271.37 833.68,271.77 835.66,272.16 837.63,272.54 839.61,272.91 841.59,273.28 843.57,273.65 845.55,274.03 847.52,274.41 849.5,274.8 851.47,275.18 853.45,275.56 855.43,275.95 857.4,276.33 859.38,276.7 861.36,277.07 863.34,277.44 865.32,277.8 867.3,278.16 869.28,278.51 871.26,278.86 873.24,279.21 875.23,279.55 877.21,279.89 879.19,280.23 881.18,280.56 883.16,280.9 885.15,281.23 887.13,281.56 889.12,281.88 891.11,282.2 893.1,282.52 895.09,282.82 897.08,283.12 899.07,283.4 901.06,283.68 903.06,283.94 905.06,284.18 907.05,284.42 909.05,284.65 911.05,284.88 913.05,285.1 915.05,285.32 917.06,285.54 919.06,285.76 921.06,285.99 923.05,286.23 925.05,286.47 927.05,286.72 929.05,286.98 931.04,287.24 933.04,287.5 935.03,287.77 937.03,288.04 939.02,288.3 941.02,288.57 943.01,288.83 945.01,289.09 947,289.35 949,289.6"/>
<text x="836.1" y="110" font-size="18.15" text-anchor="start" font-family="'Liberation Sans', Arial, sans-serif" transform="translate(836.1 110) scale(1 0.99) translate(-836.1 -110)" >T=1200°C, <tspan font-family="'DejaVu Serif Condensed', 'DejaVu Serif', serif" font-style="italic" font-size="16.88" stroke-width="0">ε̇</tspan>=0.005 s<tspan font-size="11.43" dy="-5.63">-1</tspan></text>
<line x1="851.3" y1="139.55" x2="877.6" y2="139.55" stroke="#0070C0" stroke-width="3" stroke-linecap="round"/>
<text x="880.15" y="145.25" font-size="18.15" text-anchor="start" font-family="'Liberation Sans', Arial, sans-serif" transform="translate(880.15 145.25) scale(1 0.98) translate(-880.15 -145.25)" >Experiment</text>
<line x1="851.7" y1="167.65" x2="860.3" y2="167.65" stroke="#FF0000" stroke-width="3" stroke-linecap="round"/>
<line x1="872" y1="167.65" x2="877.1" y2="167.65" stroke="#FF0000" stroke-width="3" stroke-linecap="round"/>
<text x="880.1" y="173.75" font-size="18.15" text-anchor="start" font-family="'Liberation Sans', Arial, sans-serif" transform="translate(880.1 173.75) scale(1 0.98) translate(-880.1 -173.75)" >Model</text>
</g>
<g id="chart-c">
<line x1="85" y1="520.62" x2="85" y2="819.83" stroke="#404040" stroke-width="1.45"/>
<line x1="84.28" y1="781.75" x2="430.32" y2="781.75" stroke="#404040" stroke-width="1.45"/>
<line x1="85" y1="521.2" x2="90" y2="521.2" stroke="#404040" stroke-width="1.15"/>
<text x="70" y="526.67" font-size="17.1" text-anchor="end" font-family="'Liberation Sans', Arial, sans-serif" >700</text>
<line x1="85" y1="528.65" x2="88.8" y2="528.65" stroke="#404040" stroke-width="1.15"/>
<line x1="85" y1="536.1" x2="88.8" y2="536.1" stroke="#404040" stroke-width="1.15"/>
<line x1="85" y1="543.55" x2="88.8" y2="543.55" stroke="#404040" stroke-width="1.15"/>
<line x1="85" y1="551.01" x2="88.8" y2="551.01" stroke="#404040" stroke-width="1.15"/>
<line x1="85" y1="558.46" x2="90" y2="558.46" stroke="#404040" stroke-width="1.15"/>
<text x="70" y="563.93" font-size="17.1" text-anchor="end" font-family="'Liberation Sans', Arial, sans-serif" >600</text>
<line x1="85" y1="565.91" x2="88.8" y2="565.91" stroke="#404040" stroke-width="1.15"/>
<line x1="85" y1="573.36" x2="88.8" y2="573.36" stroke="#404040" stroke-width="1.15"/>
<line x1="85" y1="580.81" x2="88.8" y2="580.81" stroke="#404040" stroke-width="1.15"/>
<line x1="85" y1="588.26" x2="88.8" y2="588.26" stroke="#404040" stroke-width="1.15"/>
<line x1="85" y1="595.71" x2="90" y2="595.71" stroke="#404040" stroke-width="1.15"/>
<text x="70" y="601.18" font-size="17.1" text-anchor="end" font-family="'Liberation Sans', Arial, sans-serif" >500</text>
<line x1="85" y1="603.16" x2="88.8" y2="603.16" stroke="#404040" stroke-width="1.15"/>
<line x1="85" y1="610.62" x2="88.8" y2="610.62" stroke="#404040" stroke-width="1.15"/>
<line x1="85" y1="618.07" x2="88.8" y2="618.07" stroke="#404040" stroke-width="1.15"/>
<line x1="85" y1="625.52" x2="88.8" y2="625.52" stroke="#404040" stroke-width="1.15"/>
<line x1="85" y1="632.97" x2="90" y2="632.97" stroke="#404040" stroke-width="1.15"/>
<text x="70" y="638.44" font-size="17.1" text-anchor="end" font-family="'Liberation Sans', Arial, sans-serif" >400</text>
<line x1="85" y1="640.42" x2="88.8" y2="640.42" stroke="#404040" stroke-width="1.15"/>
<line x1="85" y1="647.87" x2="88.8" y2="647.87" stroke="#404040" stroke-width="1.15"/>
<line x1="85" y1="655.32" x2="88.8" y2="655.32" stroke="#404040" stroke-width="1.15"/>
<line x1="85" y1="662.77" x2="88.8" y2="662.77" stroke="#404040" stroke-width="1.15"/>
<line x1="85" y1="670.23" x2="90" y2="670.23" stroke="#404040" stroke-width="1.15"/>
<text x="70" y="675.7" font-size="17.1" text-anchor="end" font-family="'Liberation Sans', Arial, sans-serif" >300</text>
<line x1="85" y1="677.68" x2="88.8" y2="677.68" stroke="#404040" stroke-width="1.15"/>
<line x1="85" y1="685.13" x2="88.8" y2="685.13" stroke="#404040" stroke-width="1.15"/>
<line x1="85" y1="692.58" x2="88.8" y2="692.58" stroke="#404040" stroke-width="1.15"/>
<line x1="85" y1="700.03" x2="88.8" y2="700.03" stroke="#404040" stroke-width="1.15"/>
<line x1="85" y1="707.48" x2="90" y2="707.48" stroke="#404040" stroke-width="1.15"/>
<text x="70" y="712.95" font-size="17.1" text-anchor="end" font-family="'Liberation Sans', Arial, sans-serif" >200</text>
<line x1="85" y1="714.93" x2="88.8" y2="714.93" stroke="#404040" stroke-width="1.15"/>
<line x1="85" y1="722.38" x2="88.8" y2="722.38" stroke="#404040" stroke-width="1.15"/>
<line x1="85" y1="729.84" x2="88.8" y2="729.84" stroke="#404040" stroke-width="1.15"/>
<line x1="85" y1="737.29" x2="88.8" y2="737.29" stroke="#404040" stroke-width="1.15"/>
<line x1="85" y1="744.74" x2="90" y2="744.74" stroke="#404040" stroke-width="1.15"/>
<text x="70" y="750.21" font-size="17.1" text-anchor="end" font-family="'Liberation Sans', Arial, sans-serif" >100</text>
<line x1="85" y1="752.19" x2="88.8" y2="752.19" stroke="#404040" stroke-width="1.15"/>
<line x1="85" y1="759.64" x2="88.8" y2="759.64" stroke="#404040" stroke-width="1.15"/>
<line x1="85" y1="767.09" x2="88.8" y2="767.09" stroke="#404040" stroke-width="1.15"/>
<line x1="85" y1="774.54" x2="88.8" y2="774.54" stroke="#404040" stroke-width="1.15"/>
<line x1="85" y1="781.99" x2="90" y2="781.99" stroke="#404040" stroke-width="1.15"/>
<text x="70" y="787.47" font-size="17.1" text-anchor="end" font-family="'Liberation Sans', Arial, sans-serif" >0</text>
<line x1="85" y1="789.45" x2="88.8" y2="789.45" stroke="#404040" stroke-width="1.15"/>
<line x1="85" y1="796.9" x2="88.8" y2="796.9" stroke="#404040" stroke-width="1.15"/>
<line x1="85" y1="804.35" x2="88.8" y2="804.35" stroke="#404040" stroke-width="1.15"/>
<line x1="85" y1="811.8" x2="88.8" y2="811.8" stroke="#404040" stroke-width="1.15"/>
<line x1="85" y1="819.25" x2="90" y2="819.25" stroke="#404040" stroke-width="1.15"/>
<text x="70" y="824.72" font-size="17.1" text-anchor="end" font-family="'Liberation Sans', Arial, sans-serif" >-100</text>
<line x1="85" y1="781.75" x2="85" y2="777.05" stroke="#404040" stroke-width="1.15"/>
<text x="85" y="808" font-size="17.1" text-anchor="middle" font-family="'Liberation Sans', Arial, sans-serif" transform="translate(85 808) scale(1 1.07) translate(-85 -808)" >0</text>
<line x1="104.7" y1="781.75" x2="104.7" y2="778.45" stroke="#404040" stroke-width="1.15"/>
<line x1="124.4" y1="781.75" x2="124.4" y2="778.45" stroke="#404040" stroke-width="1.15"/>
<line x1="144.1" y1="781.75" x2="144.1" y2="778.45" stroke="#404040" stroke-width="1.15"/>
<line x1="163.8" y1="781.75" x2="163.8" y2="778.45" stroke="#404040" stroke-width="1.15"/>
<line x1="183.5" y1="781.75" x2="183.5" y2="777.05" stroke="#404040" stroke-width="1.15"/>
<text x="183.5" y="808" font-size="17.1" text-anchor="middle" font-family="'Liberation Sans', Arial, sans-serif" transform="translate(183.5 808) scale(1 1.07) translate(-183.5 -808)" >20</text>
<line x1="203.2" y1="781.75" x2="203.2" y2="778.45" stroke="#404040" stroke-width="1.15"/>
<line x1="222.9" y1="781.75" x2="222.9" y2="778.45" stroke="#404040" stroke-width="1.15"/>
<line x1="242.6" y1="781.75" x2="242.6" y2="778.45" stroke="#404040" stroke-width="1.15"/>
<line x1="262.3" y1="781.75" x2="262.3" y2="778.45" stroke="#404040" stroke-width="1.15"/>
<line x1="282" y1="781.75" x2="282" y2="777.05" stroke="#404040" stroke-width="1.15"/>
<text x="282" y="808" font-size="17.1" text-anchor="middle" font-family="'Liberation Sans', Arial, sans-serif" transform="translate(282 808) scale(1 1.07) translate(-282 -808)" >40</text>
<line x1="301.7" y1="781.75" x2="301.7" y2="778.45" stroke="#404040" stroke-width="1.15"/>
<line x1="321.4" y1="781.75" x2="321.4" y2="778.45" stroke="#404040" stroke-width="1.15"/>
<line x1="341.1" y1="781.75" x2="341.1" y2="778.45" stroke="#404040" stroke-width="1.15"/>
<line x1="360.8" y1="781.75" x2="360.8" y2="778.45" stroke="#404040" stroke-width="1.15"/>
<line x1="380.5" y1="781.75" x2="380.5" y2="777.05" stroke="#404040" stroke-width="1.15"/>
<text x="380.5" y="808" font-size="17.1" text-anchor="middle" font-family="'Liberation Sans', Arial, sans-serif" transform="translate(380.5 808) scale(1 1.07) translate(-380.5 -808)" >60</text>
<line x1="400.2" y1="781.75" x2="400.2" y2="778.45" stroke="#404040" stroke-width="1.15"/>
<line x1="419.9" y1="781.75" x2="419.9" y2="778.45" stroke="#404040" stroke-width="1.15"/>
<text x="256.9" y="839.9" font-size="20.85" text-anchor="middle" font-family="'Liberation Sans', Arial, sans-serif" transform="translate(256.9 839.9) scale(1 1.06) translate(-256.9 -839.9)" >Stress σ, MPa</text>
<text x="28.8" y="671" font-size="20.85" text-anchor="middle" font-family="'Liberation Sans', Arial, sans-serif" transform="translate(28.8 671) rotate(-90) scale(1 1.09) translate(-28.8 -671)" ><tspan letter-spacing="0.1">Strain hardening rate </tspan>θ<tspan letter-spacing="-0.3">, MPa</tspan></text>
<polyline fill="none" stroke="#0070C0" stroke-width="3" stroke-linecap="round" stroke-linejoin="round" points="153.5,535.3 154.89,536.75 156.28,538.21 157.67,539.67 159.05,541.13 160.43,542.59 161.8,544.06 163.17,545.54 164.54,547.02 165.9,548.5 167.26,549.98 168.61,551.47 169.96,552.96 171.31,554.45 172.66,555.95 174,557.45 175.33,558.95 176.67,560.46 178,561.97 179.33,563.48 180.65,564.99 181.98,566.51 183.3,568.03 184.61,569.55 185.93,571.07 187.24,572.59 188.56,574.12 189.87,575.64 191.19,577.16 192.51,578.68 193.83,580.2 195.15,581.72 196.48,583.23 197.81,584.73 199.14,586.24 200.48,587.74 201.82,589.25 203.16,590.75 204.49,592.25 205.83,593.76 207.16,595.27 208.49,596.78 209.82,598.29 211.14,599.81 212.46,601.32 213.78,602.84 215.1,604.36 216.42,605.88 217.74,607.4 219.06,608.91 220.39,610.42 221.72,611.93 223.06,613.43 224.4,614.94 225.74,616.44 227.08,617.93 228.43,619.43 229.76,620.94 231.1,622.44 232.43,623.95 233.76,625.46 235.07,626.98 236.38,628.51 237.69,630.04 238.99,631.57 240.29,633.11 241.58,634.65 242.87,636.2 244.16,637.74 245.45,639.29 246.74,640.83 248.03,642.37 249.32,643.92 250.62,645.46 251.91,647 253.2,648.54 254.49,650.08 255.79,651.62 257.08,653.16 258.38,654.7 259.68,656.24 260.98,657.78 262.27,659.32 263.57,660.85 264.87,662.39 266.17,663.93 267.47,665.46 268.76,667 270.06,668.54 271.36,670.08 272.65,671.62 273.94,673.16 275.23,674.7 276.52,676.25 277.81,677.8 279.08,679.35 280.36,680.91 281.63,682.47 282.89,684.04 284.15,685.61 285.4,687.18 286.65,688.76 287.9,690.34 289.15,691.91 290.41,693.48 291.68,695.04 292.95,696.6 294.24,698.15 295.53,699.69 296.84,701.22 298.15,702.74 299.47,704.26 300.8,705.78 302.12,707.29 303.45,708.8 304.78,710.31 306.11,711.82 307.43,713.34 308.76,714.85 310.09,716.36 311.41,717.87 312.74,719.38 314.07,720.9 315.4,722.41 316.73,723.92 318.07,725.42 319.42,726.91 320.79,728.39 322.17,729.85 323.58,731.28 325.02,732.69 326.48,734.08 327.95,735.44 329.45,736.79 330.96,738.12 332.48,739.45 334,740.76 335.53,742.07 337.06,743.37 338.6,744.66 340.15,745.95 341.72,747.21 343.29,748.47 344.88,749.7 346.48,750.92 348.09,752.13 349.72,753.31 351.36,754.47 353.01,755.62 354.67,756.76 356.33,757.9 357.97,759.07 359.59,760.27 361.17,761.51 362.71,762.81 364.19,764.18 365.6,765.62 366.92,767.14 368.16,768.73 369.29,770.4 370.31,772.13 371.22,773.93 371.99,775.8 372.63,777.71 373.11,779.67 373.38,781.67 373.36,783.68 373.08,785.68 372.56,787.64 371.83,789.52 370.91,791.32 369.82,793.02 368.55,794.6 367.13,796.03 365.57,797.31 363.87,798.4 362.06,799.3 360.17,800.01 358.22,800.53 356.22,800.84 354.2,800.89 352.19,800.67 350.22,800.19 348.34,799.47 346.56,798.52 344.89,797.4 343.3,796.15 341.77,794.82 340.29,793.44 338.86,792.03 337.46,790.58 336.1,789.1 334.78,787.6 333.48,786.06 332.2,784.5"/>
<polyline fill="none" stroke="#0070C0" stroke-width="3" stroke-linecap="round" stroke-linejoin="round" points="332.2,784.5 331.3,782.5 331.2,779.9"/>
<polyline fill="none" stroke="#FF0000" stroke-width="3" stroke-linecap="round" stroke-linejoin="round" stroke-dasharray="8.7 10.4" stroke-dashoffset="-1" points="153.5,535.3 154.89,536.75 156.28,538.21 157.67,539.67 159.05,541.13 160.43,542.59 161.8,544.06 163.17,545.54 164.54,547.02 165.9,548.5 167.26,549.98 168.61,551.47 169.96,552.96 171.31,554.45 172.66,555.95 174,557.45 175.33,558.95 176.67,560.46 178,561.97 179.33,563.48 180.65,564.99 181.98,566.51 183.3,568.03 184.61,569.55 185.93,571.07 187.24,572.59 188.56,574.12 189.87,575.64 191.19,577.16 192.51,578.68 193.83,580.2 195.15,581.72 196.48,583.23 197.81,584.73 199.14,586.24 200.48,587.74 201.82,589.25 203.16,590.75 204.49,592.25 205.83,593.76 207.16,595.27 208.49,596.78 209.82,598.29 211.14,599.81 212.46,601.32 213.78,602.84 215.1,604.36 216.42,605.88 217.74,607.4 219.06,608.91 220.39,610.42 221.72,611.93 223.06,613.43 224.4,614.94 225.74,616.44 227.08,617.93 228.43,619.43 229.76,620.94 231.1,622.44 232.43,623.95 233.76,625.46 235.07,626.98 236.38,628.51 237.69,630.04 238.99,631.57 240.29,633.11 241.58,634.65 242.87,636.2 244.16,637.74 245.45,639.29 246.74,640.83 248.03,642.37 249.32,643.92 250.62,645.46 251.91,647 253.2,648.54 254.49,650.08 255.79,651.62 257.08,653.16 258.38,654.7 259.68,656.24 260.98,657.78 262.27,659.32 263.57,660.85 264.87,662.39 266.17,663.93 267.47,665.46 268.76,667 270.06,668.54 271.36,670.08 272.65,671.62 273.94,673.16 275.23,674.7 276.52,676.25 277.81,677.8 279.08,679.35 280.36,680.91 281.63,682.47 282.89,684.04 284.15,685.61 285.4,687.18 286.65,688.76 287.9,690.34 289.15,691.91 290.41,693.48 291.68,695.04 292.95,696.6 294.24,698.15 295.53,699.69 296.84,701.22 298.15,702.74 299.47,704.26 300.8,705.78 302.12,707.29 303.45,708.8 304.78,710.31 306.11,711.82 307.43,713.34 308.76,714.85 310.09,716.36 311.41,717.87 312.74,719.38 314.07,720.9 315.4,722.41 316.73,723.92 318.07,725.42 319.42,726.91 320.79,728.39 322.17,729.85 323.58,731.28 325.02,732.69 326.48,734.08 327.95,735.44 329.45,736.79 330.96,738.12 332.48,739.45 334,740.76 335.53,742.07 337.06,743.37 338.6,744.66 340.15,745.95 341.72,747.21 343.29,748.47 344.88,749.7 346.48,750.92 348.09,752.13 349.72,753.31 351.36,754.47 353.01,755.62 354.67,756.76 356.33,757.9 357.97,759.07 359.59,760.27 361.17,761.51 362.71,762.81 364.19,764.18 365.6,765.62 366.92,767.14 368.16,768.73 369.29,770.4 370.31,772.13 371.22,773.93 371.99,775.8 372.63,777.71 373.11,779.67 373.38,781.67 373.36,783.68 373.08,785.68 372.56,787.64 371.83,789.52 370.91,791.32 369.82,793.02 368.55,794.6 367.13,796.03 365.57,797.31 363.87,798.4 362.06,799.3 360.17,800.01 358.22,800.53 356.22,800.84 354.2,800.89 352.19,800.67 350.22,800.19 348.34,799.47 346.56,798.52 344.89,797.4 343.3,796.15 341.77,794.82 340.29,793.44 338.86,792.03 337.46,790.58 336.1,789.1 334.78,787.6 333.48,786.06 332.2,784.5"/>
<text x="333" y="527" font-size="17.25" text-anchor="start" font-family="'Liberation Sans', Arial, sans-serif" transform="translate(333 527) scale(1 0.98) translate(-333 -527)" >T=1200°C, <tspan font-family="'DejaVu Serif Condensed', 'DejaVu Serif', serif" font-style="italic" font-size="16.04" stroke-width="0">ε̇</tspan>=1 s<tspan font-size="10.87" dy="-5.35">-1</tspan></text>
<line x1="344.5" y1="541.3" x2="368.8" y2="541.3" stroke="#0070C0" stroke-width="2.9" stroke-linecap="round"/>
<text x="371.2" y="546.7" font-size="17.25" text-anchor="start" font-family="'Liberation Sans', Arial, sans-serif" transform="translate(371.2 546.7) scale(1 1.03) translate(-371.2 -546.7)" >Experiment</text>
<line x1="344.55" y1="570.55" x2="352.55" y2="570.55" stroke="#FF0000" stroke-width="2.9" stroke-linecap="round"/>
<line x1="363.65" y1="570.55" x2="368.55" y2="570.55" stroke="#FF0000" stroke-width="2.9" stroke-linecap="round"/>
<text x="371.2" y="576" font-size="17.25" text-anchor="start" font-family="'Liberation Sans', Arial, sans-serif" transform="translate(371.2 576) scale(1 1.03) translate(-371.2 -576)" >Model</text>
</g>
<g id="chart-d">
<line x1="626.7" y1="519.92" x2="626.7" y2="820.58" stroke="#404040" stroke-width="1.45"/>
<line x1="625.98" y1="777.5" x2="947.28" y2="777.5" stroke="#404040" stroke-width="1.45"/>
<line x1="626.7" y1="520.5" x2="631.4" y2="520.5" stroke="#404040" stroke-width="1.15"/>
<text x="612.5" y="525.75" font-size="16.4" text-anchor="end" font-family="'Liberation Sans', Arial, sans-serif" transform="translate(612.5 525.75) scale(1 1.03) translate(-612.5 -525.75)" >3000</text>
<line x1="626.7" y1="529.06" x2="629.9" y2="529.06" stroke="#404040" stroke-width="1.15"/>
<line x1="626.7" y1="537.61" x2="629.9" y2="537.61" stroke="#404040" stroke-width="1.15"/>
<line x1="626.7" y1="546.17" x2="629.9" y2="546.17" stroke="#404040" stroke-width="1.15"/>
<line x1="626.7" y1="554.73" x2="629.9" y2="554.73" stroke="#404040" stroke-width="1.15"/>
<line x1="626.7" y1="563.29" x2="631.4" y2="563.29" stroke="#404040" stroke-width="1.15"/>
<text x="612.5" y="568.53" font-size="16.4" text-anchor="end" font-family="'Liberation Sans', Arial, sans-serif" transform="translate(612.5 568.53) scale(1 1.03) translate(-612.5 -568.53)" >2500</text>
<line x1="626.7" y1="571.84" x2="629.9" y2="571.84" stroke="#404040" stroke-width="1.15"/>
<line x1="626.7" y1="580.4" x2="629.9" y2="580.4" stroke="#404040" stroke-width="1.15"/>
<line x1="626.7" y1="588.96" x2="629.9" y2="588.96" stroke="#404040" stroke-width="1.15"/>
<line x1="626.7" y1="597.51" x2="629.9" y2="597.51" stroke="#404040" stroke-width="1.15"/>
<line x1="626.7" y1="606.07" x2="631.4" y2="606.07" stroke="#404040" stroke-width="1.15"/>
<text x="612.5" y="611.32" font-size="16.4" text-anchor="end" font-family="'Liberation Sans', Arial, sans-serif" transform="translate(612.5 611.32) scale(1 1.03) translate(-612.5 -611.32)" >2000</text>
<line x1="626.7" y1="614.63" x2="629.9" y2="614.63" stroke="#404040" stroke-width="1.15"/>
<line x1="626.7" y1="623.19" x2="629.9" y2="623.19" stroke="#404040" stroke-width="1.15"/>
<line x1="626.7" y1="631.74" x2="629.9" y2="631.74" stroke="#404040" stroke-width="1.15"/>
<line x1="626.7" y1="640.3" x2="629.9" y2="640.3" stroke="#404040" stroke-width="1.15"/>
<line x1="626.7" y1="648.86" x2="631.4" y2="648.86" stroke="#404040" stroke-width="1.15"/>
<text x="612.5" y="654.1" font-size="16.4" text-anchor="end" font-family="'Liberation Sans', Arial, sans-serif" transform="translate(612.5 654.1) scale(1 1.03) translate(-612.5 -654.1)" >1500</text>
<line x1="626.7" y1="657.41" x2="629.9" y2="657.41" stroke="#404040" stroke-width="1.15"/>
<line x1="626.7" y1="665.97" x2="629.9" y2="665.97" stroke="#404040" stroke-width="1.15"/>
<line x1="626.7" y1="674.53" x2="629.9" y2="674.53" stroke="#404040" stroke-width="1.15"/>
<line x1="626.7" y1="683.09" x2="629.9" y2="683.09" stroke="#404040" stroke-width="1.15"/>
<line x1="626.7" y1="691.64" x2="631.4" y2="691.64" stroke="#404040" stroke-width="1.15"/>
<text x="612.5" y="696.89" font-size="16.4" text-anchor="end" font-family="'Liberation Sans', Arial, sans-serif" transform="translate(612.5 696.89) scale(1 1.03) translate(-612.5 -696.89)" >1000</text>
<line x1="626.7" y1="700.2" x2="629.9" y2="700.2" stroke="#404040" stroke-width="1.15"/>
<line x1="626.7" y1="708.76" x2="629.9" y2="708.76" stroke="#404040" stroke-width="1.15"/>
<line x1="626.7" y1="717.31" x2="629.9" y2="717.31" stroke="#404040" stroke-width="1.15"/>
<line x1="626.7" y1="725.87" x2="629.9" y2="725.87" stroke="#404040" stroke-width="1.15"/>
<line x1="626.7" y1="734.43" x2="631.4" y2="734.43" stroke="#404040" stroke-width="1.15"/>
<text x="612.5" y="739.68" font-size="16.4" text-anchor="end" font-family="'Liberation Sans', Arial, sans-serif" transform="translate(612.5 739.68) scale(1 1.03) translate(-612.5 -739.68)" >500</text>
<line x1="626.7" y1="742.99" x2="629.9" y2="742.99" stroke="#404040" stroke-width="1.15"/>
<line x1="626.7" y1="751.54" x2="629.9" y2="751.54" stroke="#404040" stroke-width="1.15"/>
<line x1="626.7" y1="760.1" x2="629.9" y2="760.1" stroke="#404040" stroke-width="1.15"/>
<line x1="626.7" y1="768.66" x2="629.9" y2="768.66" stroke="#404040" stroke-width="1.15"/>
<line x1="626.7" y1="777.21" x2="631.4" y2="777.21" stroke="#404040" stroke-width="1.15"/>
<text x="612.5" y="782.46" font-size="16.4" text-anchor="end" font-family="'Liberation Sans', Arial, sans-serif" transform="translate(612.5 782.46) scale(1 1.03) translate(-612.5 -782.46)" >0</text>
<line x1="626.7" y1="785.77" x2="629.9" y2="785.77" stroke="#404040" stroke-width="1.15"/>
<line x1="626.7" y1="794.33" x2="629.9" y2="794.33" stroke="#404040" stroke-width="1.15"/>
<line x1="626.7" y1="802.89" x2="629.9" y2="802.89" stroke="#404040" stroke-width="1.15"/>
<line x1="626.7" y1="811.44" x2="629.9" y2="811.44" stroke="#404040" stroke-width="1.15"/>
<line x1="626.7" y1="820" x2="631.4" y2="820" stroke="#404040" stroke-width="1.15"/>
<text x="612.5" y="825.25" font-size="16.4" text-anchor="end" font-family="'Liberation Sans', Arial, sans-serif" transform="translate(612.5 825.25) scale(1 1.03) translate(-612.5 -825.25)" >-500</text>
<line x1="626.7" y1="777.5" x2="626.7" y2="772.9" stroke="#404040" stroke-width="1.15"/>
<text x="626.4" y="803.75" font-size="16.4" text-anchor="middle" font-family="'Liberation Sans', Arial, sans-serif" transform="translate(626.4 803.75) scale(1 1.08) translate(-626.4 -803.75)" >20</text>
<line x1="639.5" y1="777.5" x2="639.5" y2="774.4" stroke="#404040" stroke-width="1.15"/>
<line x1="652.3" y1="777.5" x2="652.3" y2="774.4" stroke="#404040" stroke-width="1.15"/>
<line x1="665.1" y1="777.5" x2="665.1" y2="774.4" stroke="#404040" stroke-width="1.15"/>
<line x1="677.9" y1="777.5" x2="677.9" y2="774.4" stroke="#404040" stroke-width="1.15"/>
<line x1="690.7" y1="777.5" x2="690.7" y2="772.9" stroke="#404040" stroke-width="1.15"/>
<text x="690.4" y="803.75" font-size="16.4" text-anchor="middle" font-family="'Liberation Sans', Arial, sans-serif" transform="translate(690.4 803.75) scale(1 1.08) translate(-690.4 -803.75)" >40</text>
<line x1="703.5" y1="777.5" x2="703.5" y2="774.4" stroke="#404040" stroke-width="1.15"/>
<line x1="716.3" y1="777.5" x2="716.3" y2="774.4" stroke="#404040" stroke-width="1.15"/>
<line x1="729.1" y1="777.5" x2="729.1" y2="774.4" stroke="#404040" stroke-width="1.15"/>
<line x1="741.9" y1="777.5" x2="741.9" y2="774.4" stroke="#404040" stroke-width="1.15"/>
<line x1="754.7" y1="777.5" x2="754.7" y2="772.9" stroke="#404040" stroke-width="1.15"/>
<text x="754.4" y="803.75" font-size="16.4" text-anchor="middle" font-family="'Liberation Sans', Arial, sans-serif" transform="translate(754.4 803.75) scale(1 1.08) translate(-754.4 -803.75)" >60</text>
<line x1="767.5" y1="777.5" x2="767.5" y2="774.4" stroke="#404040" stroke-width="1.15"/>
<line x1="780.3" y1="777.5" x2="780.3" y2="774.4" stroke="#404040" stroke-width="1.15"/>
<line x1="793.1" y1="777.5" x2="793.1" y2="774.4" stroke="#404040" stroke-width="1.15"/>
<line x1="805.9" y1="777.5" x2="805.9" y2="774.4" stroke="#404040" stroke-width="1.15"/>
<line x1="818.7" y1="777.5" x2="818.7" y2="772.9" stroke="#404040" stroke-width="1.15"/>
<text x="818.4" y="803.75" font-size="16.4" text-anchor="middle" font-family="'Liberation Sans', Arial, sans-serif" transform="translate(818.4 803.75) scale(1 1.08) translate(-818.4 -803.75)" >80</text>
<line x1="831.5" y1="777.5" x2="831.5" y2="774.4" stroke="#404040" stroke-width="1.15"/>
<line x1="844.3" y1="777.5" x2="844.3" y2="774.4" stroke="#404040" stroke-width="1.15"/>
<line x1="857.1" y1="777.5" x2="857.1" y2="774.4" stroke="#404040" stroke-width="1.15"/>
<line x1="869.9" y1="777.5" x2="869.9" y2="774.4" stroke="#404040" stroke-width="1.15"/>
<line x1="882.7" y1="777.5" x2="882.7" y2="772.9" stroke="#404040" stroke-width="1.15"/>
<text x="882.4" y="803.75" font-size="16.4" text-anchor="middle" font-family="'Liberation Sans', Arial, sans-serif" transform="translate(882.4 803.75) scale(1 1.08) translate(-882.4 -803.75)" >100</text>
<line x1="895.5" y1="777.5" x2="895.5" y2="774.4" stroke="#404040" stroke-width="1.15"/>
<line x1="908.3" y1="777.5" x2="908.3" y2="774.4" stroke="#404040" stroke-width="1.15"/>
<line x1="921.1" y1="777.5" x2="921.1" y2="774.4" stroke="#404040" stroke-width="1.15"/>
<line x1="933.9" y1="777.5" x2="933.9" y2="774.4" stroke="#404040" stroke-width="1.15"/>
<line x1="946.7" y1="777.5" x2="946.7" y2="772.9" stroke="#404040" stroke-width="1.15"/>
<text x="946.4" y="803.75" font-size="16.4" text-anchor="middle" font-family="'Liberation Sans', Arial, sans-serif" transform="translate(946.4 803.75) scale(1 1.08) translate(-946.4 -803.75)" >120</text>
<text x="786.25" y="840.6" font-size="20.1" text-anchor="middle" font-family="'Liberation Sans', Arial, sans-serif" transform="translate(786.25 840.6) scale(1 1.04) translate(-786.25 -840.6)" >Stress σ, MPa</text>
<text x="569" y="671.1" font-size="20.1" text-anchor="middle" font-family="'Liberation Sans', Arial, sans-serif" transform="translate(569 671.1) rotate(-90) scale(1 1.03) translate(-569 -671.1)" >Strain hardening rate θ, MPa</text>
<polyline fill="none" stroke="#0070C0" stroke-width="2.7" stroke-linecap="round" stroke-linejoin="round" points="720.6,556.9 722.49,557.61 724.4,558.29 726.31,558.94 728.23,559.57 730.15,560.18 732.08,560.79 734.01,561.38 735.94,561.97 737.88,562.56 739.81,563.15 741.74,563.75 743.66,564.36 745.58,564.99 747.49,565.64 749.4,566.32 751.3,567.01 753.19,567.73 755.07,568.46 756.94,569.22 758.8,570 760.66,570.79 762.51,571.6 764.35,572.42 766.2,573.25 768.04,574.07 769.89,574.89 771.75,575.7 773.6,576.5 775.46,577.3 777.31,578.12 779.15,578.95 780.97,579.82 782.77,580.73 784.55,581.68 786.3,582.69 788.03,583.73 789.74,584.8 791.44,585.9 793.13,587.02 794.81,588.15 796.46,589.32 798.08,590.52 799.67,591.77 801.2,593.08 802.68,594.46 804.11,595.89 805.5,597.36 806.84,598.88 808.14,600.42 809.41,602 810.65,603.59 811.88,605.19 813.1,606.8 814.33,608.41 815.55,610.01 816.77,611.63 817.98,613.24 819.18,614.87 820.36,616.51 821.53,618.15 822.69,619.81 823.84,621.47 824.99,623.13 826.14,624.79 827.3,626.44 828.48,628.08 829.68,629.71 830.91,631.31 832.17,632.89 833.46,634.45 834.78,635.98 836.12,637.49 837.5,638.97 838.9,640.43 840.33,641.86 841.78,643.26 843.26,644.64 844.75,646 846.26,647.35 847.77,648.68 849.29,650.02 850.8,651.36 852.31,652.7 853.81,654.07 855.29,655.45 856.73,656.86 858.14,658.31 859.5,659.8 860.8,661.34 862.05,662.93 863.25,664.56 864.4,666.22 865.52,667.91 866.62,669.61 867.69,671.32 868.75,673.05 869.79,674.78 870.82,676.51 871.85,678.25 872.86,679.99 873.88,681.74 874.89,683.49 875.9,685.24 876.91,686.99 877.92,688.74 878.94,690.48 879.96,692.23 880.99,693.97 882.02,695.7 883.06,697.43 884.11,699.16 885.16,700.88 886.21,702.61 887.27,704.33 888.33,706.05 889.39,707.77 890.45,709.49 891.5,711.21 892.55,712.94 893.59,714.68 894.61,716.42 895.61,718.18 896.59,719.95 897.54,721.72 898.46,723.52 899.35,725.33 900.21,727.16 901.05,729 901.87,730.84 902.68,732.69 903.48,734.55 904.28,736.41 905.07,738.27 905.87,740.12 906.67,741.98 907.46,743.84 908.25,745.7 909.03,747.56 909.8,749.43 910.56,751.3 911.3,753.18 912.03,755.06 912.75,756.95 913.45,758.84 914.14,760.74 914.82,762.64 915.48,764.55 916.13,766.47 916.75,768.39 917.34,770.33 917.86,772.28 918.3,774.25 918.66,776.24 918.91,778.24 919.03,780.27 918.99,782.3 918.7,784.3 918.07,786.23 917.08,788.01 915.72,789.5 914,790.6"/>
<polyline fill="none" stroke="#0070C0" stroke-width="2.5" stroke-linecap="round" stroke-linejoin="round" points="914,790.6 912.03,791.05 910.02,791.43 907.99,791.67 905.96,791.7 903.94,791.52 901.91,791.39 899.87,791.57 897.84,791.73 895.86,791.41 893.9,790.82 891.9,790.46 889.87,790.3 887.88,789.82 885.95,789.09 883.99,788.81 881.97,789.14 879.94,789.06 877.94,788.6 875.95,788.61 873.98,789.18 871.99,789.55 869.98,789.35 867.94,788.92 865.88,788.64 863.88,788.83 861.96,789.54 860.02,789.99 858.01,789.81 855.93,789.39 853.9,788.91 852.12,788.04 850.68,786.64 849.07,785.34 847.06,784.81 845.11,785.39 843.27,786.26 841.3,786.19 839.26,785.63 837.28,785.11 835.43,784.39 833.63,783.45 831.69,782.67 829.63,782.61 827.7,783.75 826.04,784.7 824.69,783.68 823.26,781.88 821.34,781.31 819.4,781.88 817.5,782.69 815.5,783.14 813.45,783.09 811.42,782.62 809.45,782.3 807.54,782.68 805.69,783.67 803.9,784.88 802.07,785.74 800.11,785.52 798.4,784.21 797.29,782.22 796.16,780.62 794.32,780.52 792.52,781.93 791.01,783.09 789.24,782.25 787.4,781.53 785.74,782.7 783.95,783.74 781.92,783.37 779.96,782.63 778.25,781.56 776.81,779.73 775.41,779.27 774.05,781.2 772.97,783.47 771.85,784.11 770.45,782.56 768.87,780.93 767.09,780.16 765.09,780.2 762.98,780.64 761.06,781.4 759.73,782.78 758.89,784.66 757.96,786.51 756.49,787.92 754.57,788.8 752.5,788.99 750.69,788.22 749.28,786.68 748.11,784.97 746.95,783.33 745.47,781.87 743.62,780.97 741.57,781.08 739.53,781.41 737.69,780.7 735.87,779.88 733.84,780.2 731.92,779.53 730.93,777.79 730.98,775.71 731.31,773.56 731.1,771.6"/>
<polyline fill="none" stroke="#FF0000" stroke-width="2.7" stroke-linecap="round" stroke-linejoin="round" stroke-dasharray="7.5 11" stroke-dashoffset="-0.7" points="693.56,557.59 695.64,557.6 697.71,557.64 699.78,557.71 701.84,557.8 703.89,557.92 705.94,558.06 707.98,558.23 710.01,558.43 712.04,558.65 714.06,558.9 716.07,559.18 718.08,559.48 720.07,559.8 722.07,560.15 724.05,560.52 726.03,560.91 728,561.33 729.96,561.78 731.92,562.24 733.87,562.73 735.81,563.24 737.74,563.78 739.67,564.33 741.59,564.91 743.51,565.51 745.41,566.13 747.31,566.77 749.2,567.43 751.09,568.12 752.96,568.82 754.83,569.54 756.69,570.29 758.55,571.05 760.39,571.83 762.23,572.63 764.07,573.45 765.89,574.29 767.71,575.15 769.52,576.02 771.32,576.91 773.11,577.82 774.9,578.75 776.68,579.69 778.45,580.65 780.21,581.63 781.96,582.62 783.71,583.63 785.45,584.66 787.18,585.7 788.91,586.76 790.62,587.83 792.33,588.91 794.03,590.01 795.72,591.13 797.4,592.25 799.08,593.39 800.75,594.55 802.41,595.72 804.06,596.9 805.7,598.09 807.34,599.3 808.96,600.52 810.58,601.75 812.19,602.99 813.79,604.24 815.39,605.5 816.97,606.78 818.55,608.07 820.12,609.36 821.68,610.67 823.23,611.98 824.77,613.31 826.31,614.64 827.83,615.99 829.35,617.34 830.86,618.7 832.36,620.07 833.85,621.45 835.33,622.83 836.8,624.23 838.27,625.63 839.72,627.04 841.17,628.46 842.61,629.89 844.04,631.33 845.45,632.77 846.86,634.23 848.26,635.69 849.65,637.16 851.03,638.64 852.4,640.13 853.75,641.62 855.1,643.13 856.44,644.64 857.77,646.16 859.09,647.69 860.39,649.23 861.69,650.77 862.98,652.32 864.25,653.89 865.51,655.46 866.77,657.04 868.01,658.62 869.24,660.22 870.46,661.82 871.66,663.43 872.86,665.05 874.04,666.68 875.22,668.32 876.38,669.96 877.53,671.61 878.66,673.27 879.79,674.94 880.9,676.62 882,678.31 883.09,680 884.17,681.7 885.23,683.41 886.28,685.13 887.32,686.86 888.34,688.59 889.35,690.33 890.35,692.08 891.34,693.84 892.31,695.61 893.27,697.38 894.21,699.17 895.15,700.96 896.07,702.76 896.97,704.56 897.86,706.38 898.73,708.2 899.59,710.03 900.44,711.86 901.27,713.71 902.08,715.56 902.88,717.42 903.67,719.28 904.43,721.15 905.18,723.03 905.92,724.92 906.63,726.81 907.33,728.71 908.01,730.61 908.68,732.53 909.32,734.44 909.95,736.37 910.56,738.29 911.15,740.23 911.72,742.17 912.28,744.12 912.81,746.07 913.32,748.02 913.82,749.99 914.29,751.95 914.74,753.93 915.17,755.9 915.59,757.89 915.98,759.87 916.35,761.87 916.69,763.86 917.02,765.86 917.32,767.87 917.61,769.88 917.87,771.89 918.1,773.91 918.32,775.93"/>
<polyline fill="none" stroke="#FF0000" stroke-width="2.7" stroke-linecap="round" stroke-linejoin="round" points="917.6,781.8 917.3,787.5"/>
<polyline fill="none" stroke="#FF0000" stroke-width="2.7" stroke-linecap="round" stroke-linejoin="round" stroke-dasharray="7.5 11" points="913.9,788.8 896,788.3 878,787.5 860,786.6 840.9,785.8 822,784.7 803.8,783.6 785.5,782.8 767.3,781.7 748.5,780.6 736,780 733.8,779.9 733.2,779.3 733.2,771.6"/>
<text x="846" y="526.25" font-size="16.55" text-anchor="start" font-family="'Liberation Sans', Arial, sans-serif" transform="translate(846 526.25) scale(1 0.98) translate(-846 -526.25)" >T=1200°C, <tspan font-family="'DejaVu Serif Condensed', 'DejaVu Serif', serif" font-style="italic" font-size="15.39" stroke-width="0">ε̇</tspan>=0.005 s<tspan font-size="10.43" dy="-5.13">-1</tspan></text>
<line x1="867.4" y1="542.3" x2="891.6" y2="542.3" stroke="#0070C0" stroke-width="2.9" stroke-linecap="round"/>
<text x="893.85" y="548" font-size="16.55" text-anchor="start" font-family="'Liberation Sans', Arial, sans-serif" transform="translate(893.85 548) scale(1 1.04) translate(-893.85 -548)" >Experiment</text>
<line x1="867.85" y1="571.6" x2="875.85" y2="571.6" stroke="#FF0000" stroke-width="2.9" stroke-linecap="round"/>
<line x1="886.35" y1="571.6" x2="891.25" y2="571.6" stroke="#FF0000" stroke-width="2.9" stroke-linecap="round"/>
<text x="893.85" y="576.75" font-size="16.55" text-anchor="start" font-family="'Liberation Sans', Arial, sans-serif" transform="translate(893.85 576.75) scale(1 1.04) translate(-893.85 -576.75)" >Model</text>
</g>
</g>
</svg></body></html>
